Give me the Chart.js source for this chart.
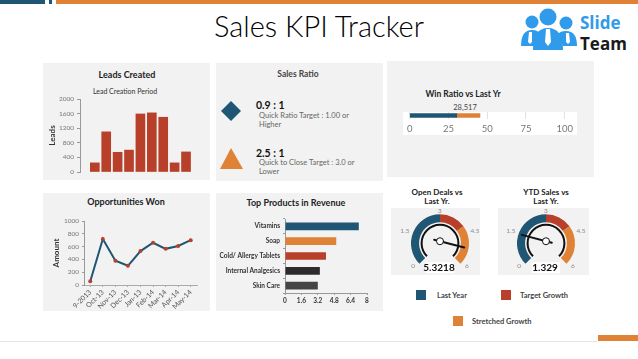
<!DOCTYPE html>
<html lang="en">
<head>
<meta charset="UTF-8">
<title>Sales KPI Tracker</title>
<script src="https://cdn.jsdelivr.net/npm/chart.js@4.4.1/dist/chart.umd.min.js"></script>
<style>
    html, body { margin: 0; padding: 0; background: #fff; }
    body { position: relative; width: 638px; height: 359px; overflow: hidden; font-family: Lato, sans-serif; color: #222; }
    .box { position: absolute; background: #f2f2f2; }
    .t { position: absolute; white-space: nowrap; transform: translate(-50%, -50%); font-weight: 700; }
    .l { position: absolute; white-space: nowrap; transform: translateY(-50%); color: #666; }
    canvas { position: absolute; }
    .sq { position: absolute; width: 10px; height: 10px; }
    .strip { position: absolute; }
</style>
</head>
<body>
<div class="strip" style="left:0;top:0;width:45px;height:4px;background:#1f5673"></div>
<div class="strip" style="left:49px;top:0;width:3px;height:4px;background:#1f5673"></div>
<div class="strip" style="left:56px;top:0;width:582px;height:4px;background:#e08236"></div>
<div class="strip" style="left:0;top:341px;width:597px;height:1px;background:#e4e4e4"></div>
<div class="strip" style="left:598px;top:335px;width:40px;height:6px;background:#e08236"></div>

<div class="t" style="left:319px;top:25px;font-size:29px;font-weight:300;color:#000">Sales KPI Tracker</div>

<svg style="position:absolute;left:520px;top:8px" width="60" height="46" viewBox="0 0 60 46">
    <g fill="#2f9bea">
        <circle cx="12" cy="14" r="6.5"/><circle cx="46" cy="15" r="6.5"/><circle cx="28" cy="9" r="8.5"/>
        <path d="M1 38 Q1 22 12 22 Q19 22 20 27 L14 38 Z"/>
        <path d="M57 38 Q57 23 46 23 Q39 23 38 27 L43 38 Z"/>
        <path d="M13 42 Q13 20 28 20 Q43 20 43 42 Z"/>
    </g>
    <g fill="#fff">
        <path d="M26 21 L30 21 L31 34 L28 38 L25 34 Z"/>
        <path d="M9 24 L12 24 L12 34 L10 36 L8 34 Z"/>
        <path d="M46 25 L49 25 L50 34 L48 36 L46 34 Z"/>
    </g>
</svg>
<div class="l" style="left:580px;top:22px;font:700 17px 'Open Sans';color:#2f9bea">Slide</div>
<div class="l" style="left:580px;top:43px;font:700 17px 'Open Sans';color:#1a1a1a">Team</div>

<div class="box" style="left:43px;top:63px;width:167px;height:117px"></div>
<div class="box" style="left:216px;top:63px;width:167px;height:118px"></div>
<div class="box" style="left:387px;top:61px;width:207px;height:116px"></div>
<div class="box" style="left:43px;top:193px;width:167px;height:118px"></div>
<div class="box" style="left:216px;top:193px;width:167px;height:118px"></div>

<div class="t" style="left:127px;top:74px;font-size:9px">Leads Created</div>
<div class="t" style="left:125px;top:91px;font-size:7px;font-weight:400;color:#333">Lead Creation Period</div>
<canvas id="leadsChart" width="167" height="117" style="left:43px;top:63px"></canvas>

<div class="t" style="left:298px;top:74px;font-size:8.5px;color:#444">Sales Ratio</div>
<svg style="position:absolute;left:218px;top:98px" width="28" height="74">
    <path d="M13 3 L23 13 L13 23 L3 13 Z" fill="#1f5673"/>
    <path d="M13 50 L25 71 L2 71 Z" fill="#e08236"/>
</svg>
<div class="l" style="left:256px;top:105px;font-size:10.5px;font-weight:700;color:#111">0.9 : 1</div>
<div class="l" style="left:259px;top:115px;font-size:7.5px">Quick Ratio Target : 1.00 or</div>
<div class="l" style="left:259px;top:124px;font-size:7.5px">Higher</div>
<div class="l" style="left:256px;top:153px;font-size:10.5px;font-weight:700;color:#111">2.5 : 1</div>
<div class="l" style="left:259px;top:162px;font-size:7.5px">Quick to Close Target : 3.0 or</div>
<div class="l" style="left:259px;top:171px;font-size:7.5px">Lower</div>

<div class="t" style="left:463px;top:94px;font-size:8.5px">Win Ratio vs Last Yr</div>
<div class="t" style="left:465px;top:107px;font-size:7.5px;font-weight:400;color:#444">28,517</div>
<canvas id="winChart" width="174" height="23" style="left:403px;top:112px;background:#fff"></canvas>

<div class="t" style="left:126px;top:201px;font-size:9px">Opportunities Won</div>
<canvas id="oppChart" width="167" height="118" style="left:43px;top:193px"></canvas>

<div class="t" style="left:296px;top:202px;font-size:9px">Top Products in Revenue</div>
<canvas id="productChart" width="167" height="118" style="left:216px;top:193px"></canvas>

<div class="t" style="left:437px;top:188px;font-size:8px;line-height:9px;text-align:center;transform:translate(-50%,0)">Open Deals vs<br>Last Yr.</div>
<div class="t" style="left:546px;top:188px;font-size:8px;line-height:9px;text-align:center;transform:translate(-50%,0)">YTD Sales vs<br>Last Yr.</div>
<div class="box" style="left:391px;top:208px;width:89px;height:67px"></div>
<div class="box" style="left:498px;top:208px;width:91px;height:67px"></div>
<canvas id="openGauge" width="89" height="67" style="left:391px;top:208px"></canvas>
<canvas id="ytdGauge" width="91" height="67" style="left:498px;top:208px"></canvas>

<div class="sq" style="left:416px;top:290px;background:#1f5673"></div>
<div class="l" style="left:437px;top:295px;font-size:7.5px;font-weight:700;color:#444">Last Year</div>
<div class="sq" style="left:501px;top:290px;background:#b83f2a"></div>
<div class="l" style="left:520px;top:295px;font-size:7.5px;font-weight:700;color:#444">Target Growth</div>
<div class="sq" style="left:453px;top:316px;background:#e08236"></div>
<div class="l" style="left:472px;top:321px;font-size:7.5px;font-weight:700;color:#444">Stretched Growth</div>

<script type="text/javascript">
    const leadPeriods = [0, 1, 2, 3, 4, 5, 6, 7, 8];
    const leadValues = [250, 1100, 540, 600, 1590, 1620, 1500, 250, 550];

    const oppMonths = ["9-2013", "Oct-13", "Nov-13", "Dec-13", "Jan-13", "Feb-14", "Mar-14", "Apr-14", "May-14"];
    const oppValues = [60, 720, 380, 300, 530, 660, 565, 610, 700];

    const products = ["Vitamins", "Soap", "Cold/ Allergy Tablets", "Internal Analgesics", "Skin Care"];
    const productValues = [7.2, 5.0, 4.0, 3.4, 3.2];

    const winLastYear = [30.3];
    const winStretch = [15];

    const gaugeBands = [3, 1.2, 1.8];
    const gaugeTicks = [0, 1.5, 3, 4.5, 6];
    const openDealsValue = 5.3218;
    const ytdSalesValue = 1.329;

    const BLUE = "#1f5673", RED = "#b83f2a", ORANGE = "#e08236";

    Chart.defaults.font.family = "Lato, sans-serif";
    Chart.defaults.animation = false;
    Chart.defaults.responsive = false;
    Chart.defaults.plugins.legend.display = false;
    Chart.defaults.plugins.tooltip.enabled = false;

    new Chart(document.getElementById("leadsChart"), {
        type: "bar",
        data: {
            datasets: [{
                data: leadPeriods.map((p, i) => ({ x: p, y: leadValues[i] })),
                backgroundColor: RED,
                barThickness: 9
            }]
        },
        options: {
            layout: { padding: { left: 0, right: 16, top: 36, bottom: 8 } },
            scales: {
                x: { type: "linear", min: -1.3, max: 8.7, offset: false, display: false },
                y: {
                    min: 0, max: 2000,
                    afterFit: s => { s.width = 37; },
                    title: { display: true, text: "Leads", color: "#333", font: { size: 8, weight: "bold" }, padding: 5 },
                    ticks: { stepSize: 400, color: "#777", font: { size: 6.5 }, padding: 3, callback: v => String(v) },
                    border: { color: "#999" },
                    grid: { drawOnChartArea: false, tickLength: 3, color: "#999" }
                }
            }
        }
    });

    new Chart(document.getElementById("oppChart"), {
        type: "line",
        data: {
            labels: oppMonths,
            datasets: [{
                data: oppValues,
                borderColor: BLUE,
                borderWidth: 2,
                tension: 0,
                pointRadius: 2,
                pointBackgroundColor: RED,
                pointBorderColor: RED,
                pointBorderWidth: 0
            }]
        },
        options: {
            layout: { padding: { left: 0, right: 13, top: 28, bottom: 0 } },
            scales: {
                x: {
                    offset: true,
                    afterFit: s => { s.height = 26; },
                    ticks: { color: "#555", font: { size: 7 }, maxRotation: 45, minRotation: 45, autoSkip: false, padding: 1 },
                    border: { color: "#aaa" },
                    grid: { drawOnChartArea: false, tickLength: 2, color: "#aaa" }
                },
                y: {
                    min: 0, max: 1000,
                    afterFit: s => { s.width = 41; },
                    title: { display: true, text: "Amount", color: "#333", font: { size: 8, weight: "bold" }, padding: 9 },
                    ticks: { stepSize: 200, color: "#777", font: { size: 6.5 }, padding: 3, callback: v => String(v) },
                    border: { color: "#999" },
                    grid: { drawOnChartArea: false, tickLength: 2, color: "#999" }
                }
            }
        }
    });

    new Chart(document.getElementById("productChart"), {
        type: "bar",
        data: {
            labels: products,
            datasets: [{
                data: productValues,
                backgroundColor: [BLUE, ORANGE, RED, "#2c2c2c", "#454545"],
                barPercentage: 0.52,
                categoryPercentage: 1
            }]
        },
        options: {
            indexAxis: "y",
            layout: { padding: { left: 0, right: 16, top: 26, bottom: 6 } },
            scales: {
                x: {
                    min: 0, max: 8,
                    afterFit: s => { s.height = 12; },
                    ticks: { stepSize: 1.6, color: "#333", font: { size: 6.5, weight: "bold" }, padding: 2, callback: v => +v.toFixed(1) },
                    border: { color: "#999" },
                    grid: { drawOnChartArea: false, tickLength: 2, color: "#999" }
                },
                y: {
                    afterFit: s => { s.width = 69; },
                    ticks: { color: "#333", font: { size: 6.5, weight: "bold" }, padding: 3, autoSkip: false },
                    border: { color: "#999" },
                    grid: { drawOnChartArea: false, tickLength: 2, offset: true, color: "#999" }
                }
            }
        }
    });

    new Chart(document.getElementById("winChart"), {
        type: "bar",
        data: {
            labels: ["Win Ratio"],
            datasets: [
                { data: winLastYear, backgroundColor: BLUE, barThickness: 4, stack: "a" },
                { data: winStretch, backgroundColor: ORANGE, barThickness: 4, stack: "a" }
            ]
        },
        options: {
            indexAxis: "y",
            layout: { padding: { left: 6, right: 10, top: 0, bottom: 0 } },
            scales: {
                x: {
                    min: 0, max: 100, stacked: true,
                    afterFit: s => { s.height = 16; },
                    ticks: { stepSize: 25, color: "#777", font: { size: 9.5 }, padding: 4 },
                    border: { display: false },
                    grid: { color: "#e2e2e2", drawTicks: false }
                },
                y: { stacked: true, display: false }
            }
        }
    });

    // needle, dial numbers and the value label are drawn on top of the doughnut
    const gaugeDial = {
        id: "gaugeDial",
        afterDraw(chart, args, opts) {
            const arc = chart.getDatasetMeta(0).data[0];
            const ctx = chart.ctx;
            const cx = arc.x, cy = arc.y;
            const angleOf = v => (-225 + v / 6 * 270) * Math.PI / 180;

            ctx.save();
            ctx.textAlign = "center";
            ctx.textBaseline = "middle";
            ctx.fillStyle = "#8a8a8a";
            ctx.font = "6.5px Lato";
            gaugeTicks.forEach(v => {
                const a = angleOf(v);
                ctx.fillText(String(v), cx + 38 * Math.cos(a), cy + 32 * Math.sin(a));
            });

            const a = angleOf(opts.value);
            const hubY = cy - 2;
            ctx.strokeStyle = "#111";
            ctx.lineCap = "round";
            ctx.lineWidth = 2;
            ctx.beginPath();
            ctx.moveTo(cx - 6 * Math.cos(a), hubY - 6 * Math.sin(a));
            ctx.lineTo(cx + 25 * Math.cos(a), hubY + 25 * Math.sin(a));
            ctx.stroke();
            ctx.fillStyle = "#fff";
            ctx.lineWidth = 1;
            ctx.beginPath();
            ctx.arc(cx, hubY, 3.5, 0, Math.PI * 2);
            ctx.fill();
            ctx.stroke();

            ctx.fillStyle = "#fff";
            ctx.fillRect(cx - 14, cy + 19, 28, 11);
            ctx.fillStyle = "#111";
            ctx.font = "bold 10px Lato";
            ctx.fillText(opts.label, cx - 1, cy + 25);
            ctx.restore();
        }
    };

    function drawGauge(id, value, label, leftPad) {
        const canvas = document.getElementById(id);
        new Chart(canvas, {
            type: "doughnut",
            plugins: [gaugeDial],
            data: {
                datasets: [
                    { data: gaugeBands, backgroundColor: [BLUE, RED, ORANGE], borderWidth: 0, weight: 8 },
                    { data: [1], backgroundColor: "rgba(0,0,0,0)", borderWidth: 0, weight: 1.5 },
                    { data: [1], backgroundColor: "#111111", borderWidth: 0, weight: 2 }
                ]
            },
            options: {
                rotation: -135,
                circumference: 270,
                radius: 29,
                cutout: "60%",
                layout: { padding: { left: leftPad, right: canvas.width - leftPad - 58, top: 6, bottom: 11 } },
                plugins: { gaugeDial: { value: value, label: label } }
            }
        });
    }

    drawGauge("openGauge", openDealsValue, "5.3218", 20);
    drawGauge("ytdGauge", ytdSalesValue, "1.329", 19);
</script>
</body>
</html>
